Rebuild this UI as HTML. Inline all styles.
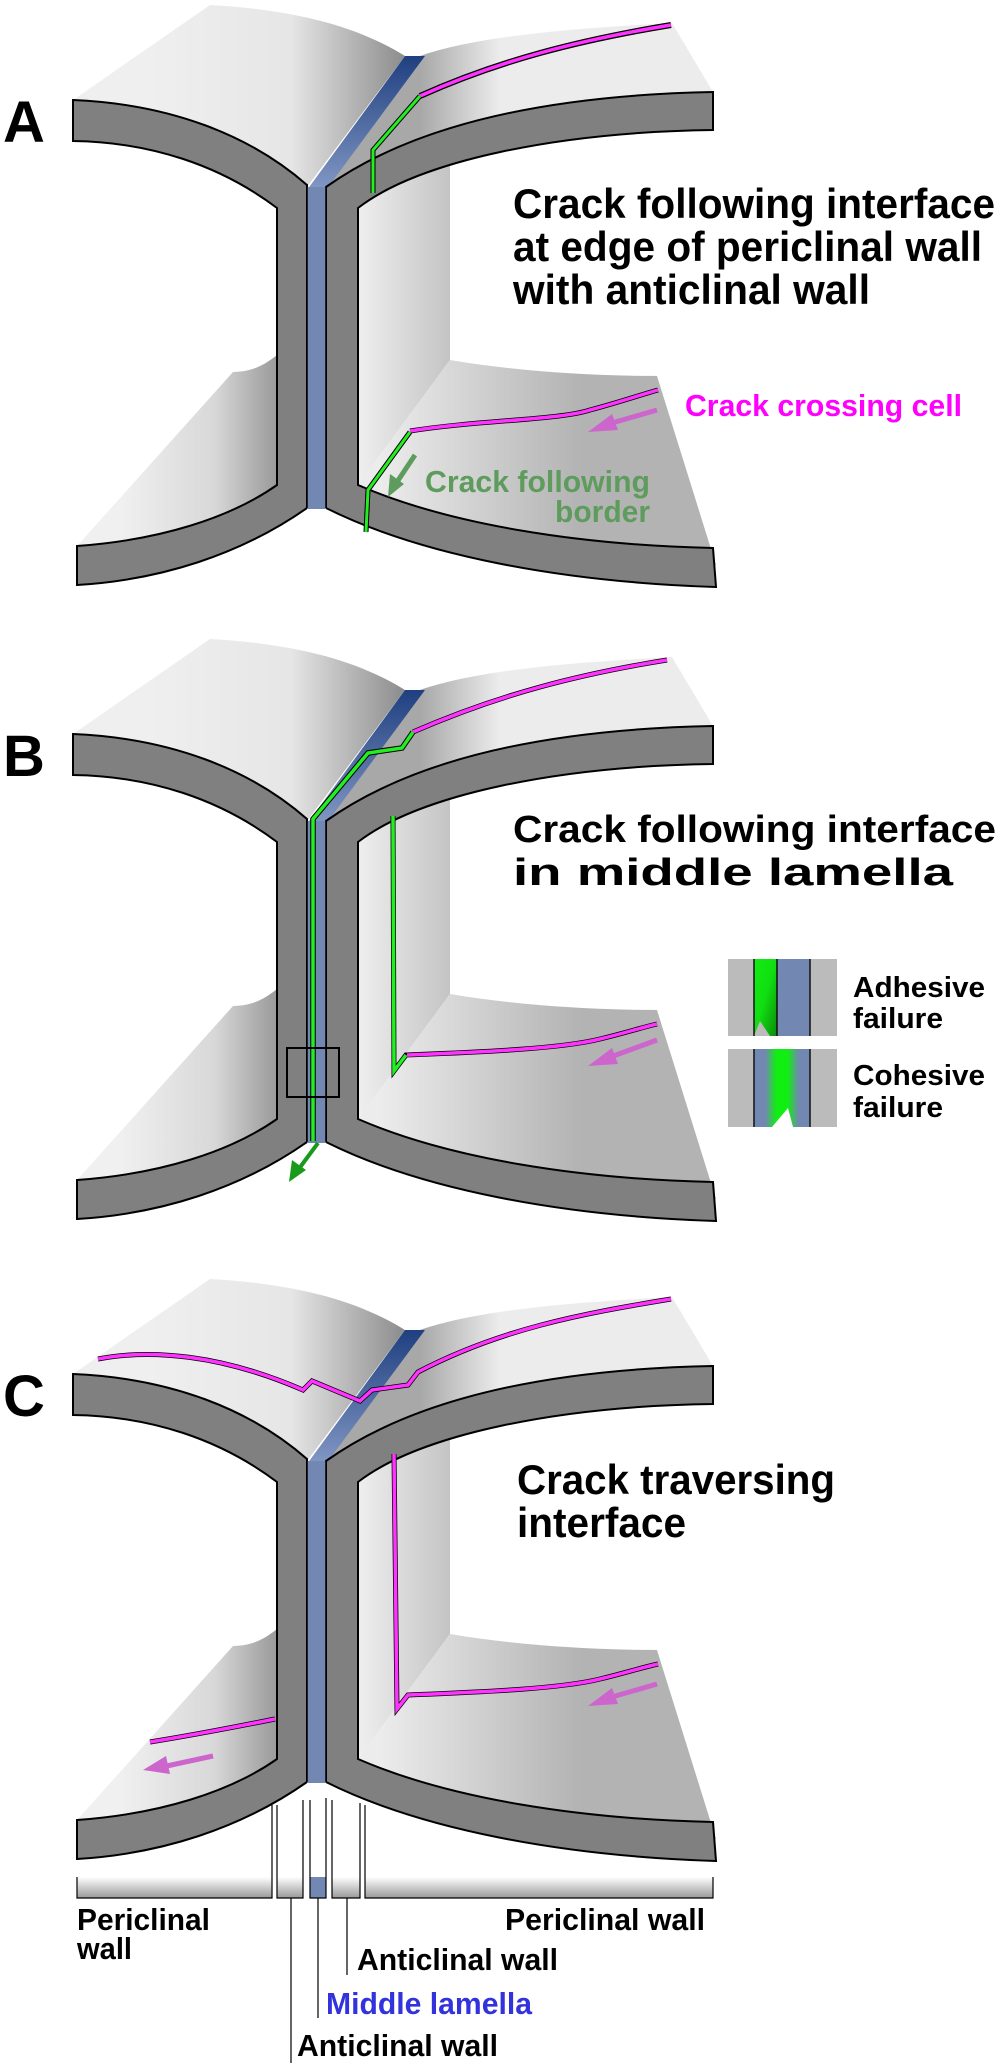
<!DOCTYPE html>
<html><head><meta charset="utf-8"><style>
html,body{margin:0;padding:0;background:#fff;width:1000px;height:2063px;overflow:hidden}
svg{display:block}
text{font-family:"Liberation Sans",sans-serif;font-weight:bold}
</style></head><body>
<svg width="1000" height="2063" viewBox="0 0 1000 2063" xmlns="http://www.w3.org/2000/svg">
<defs>
<linearGradient id="gTL" x1="150" y1="0" x2="405" y2="0" gradientUnits="userSpaceOnUse"><stop offset="0" stop-color="#efefef"/><stop offset="0.55" stop-color="#e6e6e6"/><stop offset="1" stop-color="#8c8c8c"/></linearGradient>
<linearGradient id="gTR" x1="420" y1="0" x2="500" y2="0" gradientUnits="userSpaceOnUse"><stop offset="0" stop-color="#a8a8a8"/><stop offset="1" stop-color="#ececec"/></linearGradient>
<linearGradient id="gML" x1="0" y1="56" x2="0" y2="190" gradientUnits="userSpaceOnUse"><stop offset="0" stop-color="#1f3f80"/><stop offset="1" stop-color="#8298c4"/></linearGradient>
<linearGradient id="gBW" x1="358" y1="0" x2="450" y2="0" gradientUnits="userSpaceOnUse"><stop offset="0" stop-color="#efefef"/><stop offset="1" stop-color="#c4c4c4"/></linearGradient>
<linearGradient id="gBR" x1="380" y1="0" x2="580" y2="0" gradientUnits="userSpaceOnUse"><stop offset="0" stop-color="#ececec"/><stop offset="1" stop-color="#b3b3b3"/></linearGradient>
<linearGradient id="gBL" x1="120" y1="0" x2="277" y2="0" gradientUnits="userSpaceOnUse"><stop offset="0" stop-color="#f0f0f0"/><stop offset="0.6" stop-color="#d8d8d8"/><stop offset="1" stop-color="#9a9a9a"/></linearGradient>
<linearGradient id="gLab" x1="0" y1="0" x2="0" y2="1"><stop offset="0" stop-color="#fff"/><stop offset="1" stop-color="#999"/></linearGradient>
<linearGradient id="gAd" x1="0" y1="0" x2="1" y2="1"><stop offset="0" stop-color="#11ee11"/><stop offset="0.5" stop-color="#11dd11"/><stop offset="1" stop-color="#0a8a0a"/></linearGradient>
<linearGradient id="gCo" x1="0" y1="0" x2="1" y2="0"><stop offset="0" stop-color="#7287b2"/><stop offset="0.2" stop-color="#7287b2"/><stop offset="0.4" stop-color="#11ee11"/><stop offset="0.6" stop-color="#11ee11"/><stop offset="0.8" stop-color="#7287b2"/><stop offset="1" stop-color="#7287b2"/></linearGradient>
<g id="cell">
  <path d="M73,100 L210,5 C300,10 360,28 405,56 L307,187 C250,140 170,105 73,100 Z" fill="url(#gTL)"/>
  <path d="M420,56 C480,35 580,28 672,23 L713,92 C580,95 430,140 326,187 Z" fill="url(#gTR)"/>
  <path d="M405,56 L425,56 L326,190 L307,190 Z" fill="url(#gML)"/>
  <path d="M358,200 L450,150 L450,360 L358,485 Z" fill="url(#gBW)"/>
  <path d="M358,485 L450,360 C520,372 600,376 657,376 L716,565 C600,560 450,540 350,500 Z" fill="url(#gBR)"/>
  <path d="M77,560 L77,546 L233,372 C255,372 268,362 277,355 L285,500 C220,540 150,560 77,560 Z" fill="url(#gBL)"/>
  <path d="M73,100 C170,104 250,135 307,185 L307,508 C240,555 160,580 77,585 L77,546 C160,540 230,518 277,485 L277,208 C220,165 150,142 73,141 Z" fill="#808080" stroke="#000" stroke-width="2"/>
  <path d="M326,187 C420,120 560,95 713,92 L713,130 C560,132 420,160 358,208 L358,485 C450,525 580,545 713,548 L716,587 C560,582 420,555 326,508 Z" fill="#808080" stroke="#000" stroke-width="2"/>
  <rect x="307" y="187" width="19" height="322" fill="#7287b2"/>
  <line x1="307" y1="187" x2="307" y2="508" stroke="#000" stroke-width="1.5"/>
  <line x1="326" y1="187" x2="326" y2="508" stroke="#000" stroke-width="1.5"/>
</g>
</defs>

<!-- Panel A -->
<use href="#cell"/>
<text x="3" y="142" font-size="58">A</text>
<path d="M420,96 C500,60 580,40 671,25" fill="none" stroke="#000" stroke-width="6"/>
<path d="M420,96 C500,60 580,40 671,25" fill="none" stroke="#ff33ff" stroke-width="3.5"/>
<path d="M420,96 L373,150 L373,193" fill="none" stroke="#000" stroke-width="5"/>
<path d="M420,96 L373,150 L373,193" fill="none" stroke="#22ee22" stroke-width="3"/>
<path d="M410,431 C480,420 560,420 590,410 C620,402 640,395 658,390" fill="none" stroke="#000" stroke-width="5"/>
<path d="M410,431 C480,420 560,420 590,410 C620,402 640,395 658,390" fill="none" stroke="#ff33ff" stroke-width="3.5"/>
<path d="M410,432 L368,490 L366,532" fill="none" stroke="#000" stroke-width="5"/>
<path d="M410,432 L368,490 L366,532" fill="none" stroke="#22ee22" stroke-width="3"/>
<path d="M657,410 L605,425" stroke="#cc66cc" stroke-width="5"/><path d="M588,432 L612,414 L618,430 Z" fill="#cc66cc"/>
<path d="M415,455 L395,485" stroke="#5e9c5e" stroke-width="5"/><path d="M388,497 L390,474 L404,484 Z" fill="#5e9c5e"/>
<text x="513" y="218" font-size="42" textLength="482" lengthAdjust="spacingAndGlyphs">Crack following interface</text>
<text x="513" y="261" font-size="42" textLength="469" lengthAdjust="spacingAndGlyphs">at edge of periclinal wall</text>
<text x="513" y="304" font-size="42" textLength="357" lengthAdjust="spacingAndGlyphs">with anticlinal wall</text>
<text x="685" y="416" font-size="31" fill="#ff00ff" textLength="277" lengthAdjust="spacingAndGlyphs">Crack crossing cell</text>
<text x="425" y="492" font-size="31" fill="#5e9c5e" textLength="225" lengthAdjust="spacingAndGlyphs">Crack following</text>
<text x="555" y="522" font-size="31" fill="#5e9c5e" textLength="95" lengthAdjust="spacingAndGlyphs">border</text>

<!-- Panel B -->
<g transform="translate(0,634)">
<use href="#cell"/>
<text x="3" y="142" font-size="58">B</text>
<path d="M413,98 C500,60 580,40 667,26" fill="none" stroke="#000" stroke-width="5"/>
<path d="M413,98 C500,60 580,40 667,26" fill="none" stroke="#ff33ff" stroke-width="3.5"/>
<path d="M413,98 L402,114 L368,119 L313,185 L313,507" fill="none" stroke="#000" stroke-width="5.5"/>
<path d="M413,98 L402,114 L368,119 L313,185 L313,507" fill="none" stroke="#22ee22" stroke-width="3.5"/>
<path d="M393,182 L394,437 L406,421 C480,418 560,415 600,405 C625,399 640,394 657,390" fill="none" stroke="#000" stroke-width="5"/>
<path d="M393,182 L394,437 L406,421" fill="none" stroke="#22ee22" stroke-width="3.5"/>
<path d="M407,421 C480,418 560,415 600,405 C625,399 640,394 657,390" fill="none" stroke="#ff33ff" stroke-width="3.5"/>
<rect x="287" y="414" width="52" height="49" fill="none" stroke="#000" stroke-width="2"/>
<path d="M318,509 L298,536" stroke="#1a9a1a" stroke-width="4"/><path d="M289,548 L292,526 L306,536 Z" fill="#1a9a1a"/>
<path d="M657,406 L605,425" stroke="#cc66cc" stroke-width="5"/><path d="M588,432 L612,414 L618,430 Z" fill="#cc66cc"/>
<text x="513" y="208" font-size="38" textLength="483" lengthAdjust="spacingAndGlyphs">Crack following interface</text>
<text x="513" y="251" font-size="38" textLength="440" lengthAdjust="spacingAndGlyphs">in middle lamella</text>
</g>
<!-- insets -->
<rect x="728" y="959" width="109" height="77" fill="#bbbbbb"/>
<rect x="777" y="959" width="33" height="77" fill="#7287b2"/>
<path d="M754,959 L777,959 L777,1036 L770,1036 L760,1021 L754,1036 Z" fill="url(#gAd)"/>
<line x1="754" y1="959" x2="754" y2="1036" stroke="#111" stroke-width="1.5"/>
<line x1="777" y1="959" x2="777" y2="1036" stroke="#111" stroke-width="1.5"/>
<line x1="810" y1="959" x2="810" y2="1036" stroke="#111" stroke-width="1.5"/>
<rect x="728" y="1049" width="109" height="78" fill="#bbbbbb"/>
<rect x="754" y="1049" width="56" height="78" fill="url(#gCo)"/>
<path d="M772,1127 L788,1108 L793,1127 Z" fill="#fff"/>
<line x1="754" y1="1049" x2="754" y2="1127" stroke="#111" stroke-width="1.5"/>
<line x1="810" y1="1049" x2="810" y2="1127" stroke="#111" stroke-width="1.5"/>
<text x="853" y="997" font-size="29" textLength="132" lengthAdjust="spacingAndGlyphs">Adhesive</text>
<text x="853" y="1028" font-size="29" textLength="90" lengthAdjust="spacingAndGlyphs">failure</text>
<text x="853" y="1085" font-size="29" textLength="132" lengthAdjust="spacingAndGlyphs">Cohesive</text>
<text x="853" y="1117" font-size="29" textLength="90" lengthAdjust="spacingAndGlyphs">failure</text>

<!-- Panel C -->
<g transform="translate(0,1274)">
<use href="#cell"/>
<text x="3" y="142" font-size="58">C</text>
<path d="M98,85 C150,75 220,80 303,116 L312,107 L360,127 L372,116 L408,111 L418,98 C500,55 580,40 671,25" fill="none" stroke="#000" stroke-width="5"/>
<path d="M98,85 C150,75 220,80 303,116 L312,107 L360,127 L372,116 L408,111 L418,98 C500,55 580,40 671,25" fill="none" stroke="#ff33ff" stroke-width="3.5"/>
<path d="M394,180 L397,435 L408,421 C480,418 560,415 600,405 C625,399 640,394 658,390" fill="none" stroke="#000" stroke-width="5"/>
<path d="M394,180 L397,435 L408,421 C480,418 560,415 600,405 C625,399 640,394 658,390" fill="none" stroke="#ff33ff" stroke-width="3.5"/>
<path d="M150,468 C200,460 240,452 275,445" fill="none" stroke="#000" stroke-width="5"/>
<path d="M150,468 C200,460 240,452 275,445" fill="none" stroke="#ff33ff" stroke-width="3.5"/>
<path d="M213,482 L162,493" stroke="#cc66cc" stroke-width="5"/><path d="M143,496 L166,482 L170,500 Z" fill="#cc66cc"/>
<path d="M657,410 L605,425" stroke="#cc66cc" stroke-width="5"/><path d="M588,432 L612,414 L618,430 Z" fill="#cc66cc"/>
<text x="517" y="220" font-size="42" textLength="318" lengthAdjust="spacingAndGlyphs">Crack traversing</text>
<text x="517" y="263" font-size="42" textLength="169" lengthAdjust="spacingAndGlyphs">interface</text>
</g>
<!-- bottom labels -->
<g stroke="#000" stroke-width="1.2">
<rect x="77" y="1877" width="195" height="21" fill="url(#gLab)" stroke="none"/>
<rect x="277" y="1877" width="26" height="21" fill="url(#gLab)" stroke="none"/>
<rect x="310" y="1877" width="16" height="21" fill="#7287b2" stroke="none"/>
<rect x="332" y="1877" width="28" height="21" fill="url(#gLab)" stroke="none"/>
<rect x="365" y="1877" width="348" height="21" fill="url(#gLab)" stroke="none"/>
<path d="M77,1877 L77,1898 L272,1898 L272,1805 M277,1805 L277,1898 L303,1898 L303,1800 M310,1800 L310,1898 L326,1898 L326,1798 M332,1800 L332,1898 L360,1898 L360,1803 M365,1805 L365,1898 L713,1898 L713,1877" fill="none"/>
<line x1="347" y1="1898" x2="347" y2="1975"/>
<line x1="318" y1="1898" x2="318" y2="2018"/>
<line x1="291" y1="1898" x2="291" y2="2063"/>
</g>
<text x="77" y="1930" font-size="31" textLength="133" lengthAdjust="spacingAndGlyphs">Periclinal</text>
<text x="77" y="1959" font-size="31" textLength="55" lengthAdjust="spacingAndGlyphs">wall</text>
<text x="505" y="1930" font-size="31" textLength="200" lengthAdjust="spacingAndGlyphs">Periclinal wall</text>
<text x="357" y="1970" font-size="31" textLength="201" lengthAdjust="spacingAndGlyphs">Anticlinal wall</text>
<text x="326" y="2014" font-size="31" fill="#3333dd" textLength="206" lengthAdjust="spacingAndGlyphs">Middle lamella</text>
<text x="297" y="2056" font-size="31" textLength="201" lengthAdjust="spacingAndGlyphs">Anticlinal wall</text>
</svg>
</body></html>
